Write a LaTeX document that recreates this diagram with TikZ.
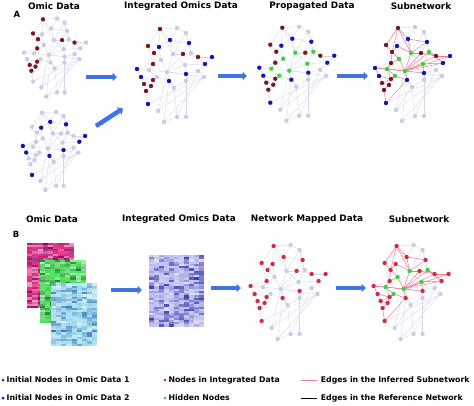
\documentclass[tikz,border=0pt]{standalone}
\usepackage{fontspec}
\setmainfont{DejaVu Sans}
\usetikzlibrary{arrows.meta}

\definecolor{drkred}{HTML}{7B1626}
\definecolor{drkblue}{HTML}{1414B4}
\definecolor{lightnode}{HTML}{C9CBE9}
\definecolor{hidgreen}{HTML}{3CD23C}
\definecolor{mapred}{HTML}{D22A3E}
\definecolor{refgray}{HTML}{D6D9EC}
\definecolor{subpink}{HTML}{F07A98}
\definecolor{arrowblue}{HTML}{3F74E4}
\definecolor{redlo}{HTML}{6A1070}
\definecolor{redhi}{HTML}{EC2E7E}
\definecolor{greenlo}{HTML}{1E7A30}
\definecolor{greenhi}{HTML}{4CE45C}
\definecolor{cyanlo}{HTML}{3A80BC}
\definecolor{cyanhi}{HTML}{A9E2F2}
\definecolor{lavlo}{HTML}{3A3AB0}
\definecolor{lavhi}{HTML}{C4C4F2}

\tikzset{
  title/.style={font=\bfseries\fontsize{8.9}{10}\selectfont, inner sep=0pt},
  panel/.style={font=\bfseries\fontsize{8.5}{10}\selectfont, inner sep=0pt},
  legend/.style={font=\bfseries\fontsize{7.8}{9}\selectfont, inner sep=0pt, anchor=west},
  refedge/.style={refgray, line width=0.4pt},
  subedge/.style={subpink, line width=0.45pt},
  bigarrow/.style={arrowblue, line width=4.5pt, -{Triangle[width=8.5pt,length=4.5pt]}},
}

% base network: name/x/y/class (R data 1, B data 2, H hidden, N other)
\newcommand{\netnodes}{1/-14/-46/R, 2/3/-47/N, 3/12/-42/N, 4/-26/-29/R,
  5/-4/-35/B, 6/-15/-28/B, 7/15/-32/B, 8/-20/-22/R, 9/-1/-21/H, 10/9/-21/R,
  11/17/-22/H, 12/24/-18/R, 13/38/-18/B, 14/31/-11/B, 15/-13/-15/H,
  16/-21/-11/R, 17/11/-10/H, 18/-37/-6/B, 19/-25/-5/H, 20/-7/-3/H,
  21/24/-4/N, 22/12/-1/B, 23/-33/2/B, 24/-21/5/R, 25/30/2/N, 26/-5/6/B,
  27/12/6/N, 28/-30/9/R, 29/-23/11/R, 30/-28/16/R, 31/0/13/N, 32/-26/29/B,
  33/-16/36/N, 34/3/42/N, 35/12/42/N, 36/-10/47/N, 37/-17/2/H}
\newcommand{\netedges}{1/2, 1/4, 1/6, 1/9, 1/5, 2/3, 2/5, 3/7, 3/9, 5/7,
  5/6, 5/9, 4/8, 6/8, 6/15, 7/11, 7/10, 8/15, 8/16, 9/10, 9/17, 9/20,
  10/12, 11/12, 11/17, 12/13, 12/14, 13/14, 14/21, 14/17, 15/20, 15/19,
  16/19, 16/18, 17/20, 17/22, 18/19, 18/23, 19/20, 19/37, 20/22, 20/26,
  20/31, 21/25, 21/22, 22/27, 23/24, 23/28, 24/37, 24/29, 26/31, 26/37,
  27/31, 28/29, 29/30, 30/32, 31/34, 31/33, 25/33, 25/32, 27/35, 26/36,
  20/33, 22/35, 34/36, 4/16, 10/20, 3/11, 20/25, 21/34, 25/36}
\newcommand{\subedges}{1/4, 1/8, 1/9, 1/5, 5/7, 5/9, 7/9, 4/8, 8/15, 6/8,
  8/16, 9/10, 9/20, 10/12, 11/12, 12/13, 11/14, 11/20, 15/20, 15/16, 16/19,
  18/19, 18/23, 19/20, 19/37, 20/22, 20/26, 20/10, 20/12, 20/14, 23/24,
  24/37, 24/28, 24/29, 29/30, 28/29, 26/37, 30/32, 19/24, 18/20, 17/20,
  17/14, 17/22, 26/32, 6/9, 13/20}

% #1 prefix, #2 #3 centre, #4 scale, #5 #6 #7 colours of R B H, #8 subnetwork
\newcommand{\drawnet}[8]{%
  \colorlet{colR}{#5}\colorlet{colB}{#6}\colorlet{colH}{#7}\colorlet{colN}{lightnode}%
  \begin{scope}[shift={(#2,#3)}, scale=#4]
    \foreach \n/\x/\y/\c in \netnodes
      \coordinate (#1\n) at (\x,\y);
    \foreach \a/\b in \netedges
      \draw[refedge] (#1\a) -- (#1\b);
    \ifnum#8=1
      \foreach \a/\b in \subedges
        \draw[subedge] (#1\a) -- (#1\b);
    \fi
    \foreach \n/\x/\y/\c in \netnodes
      \fill[col\c] (#1\n) circle[radius={2.2/#4}];
  \end{scope}}

% #1 x0, #2 y0, #3 cols, #4 rows, #5 cell w, #6 cell h, #7 colour prefix
\newcommand{\heatmap}[7]{%
  \foreach \i in {1,...,#3}
    \foreach \j in {1,...,#4}{
      \pgfmathsetmacro{\mix}{int(100*rnd^2.5)}
      \pgfmathsetmacro{\lite}{int(100-55*rnd^3)}
      \fill[#7lo!\mix!#7hi!\lite!white] ({#1+(\i-1)*#5},{#2+(\j-1)*#6}) rectangle ++(#5,#6);
    }}

\begin{document}
\begin{tikzpicture}[x=1pt, y=-1pt]
  \useasboundingbox (0,0) rectangle (474,405);
  \pgfmathsetseed{17}

  % ----- A
  \node[panel] (labA) at (17,14) {A};
  \node[title] (tA1) at (54,6) {Omic Data};
  \node[title] (tA2) at (181,6) {Integrated Omics Data};
  \node[title] (tA3) at (312,6) {Propagated Data};
  \node[title] (tA4) at (421,6) {Subnetwork};

  \drawnet{one}{54.6}{57.5}{0.83}{drkred}{lightnode}{lightnode}{0}
  \drawnet{two}{53.6}{150.9}{0.83}{lightnode}{drkblue}{lightnode}{0}
  \drawnet{int}{174}{75}{1}{drkred}{drkblue}{lightnode}{0}
  \drawnet{prop}{296.3}{73.7}{1}{drkred}{drkblue}{hidgreen}{0}
  \drawnet{suba}{412}{74}{1}{drkred}{drkblue}{hidgreen}{1}

  \coordinate (a1s) at (86,77);    \coordinate (a1e) at (117,77);
  \coordinate (a2s) at (96,126);   \coordinate (a2e) at (123,108.5);
  \coordinate (a3s) at (218,76);   \coordinate (a3e) at (247,76);
  \coordinate (a4s) at (337,76);   \coordinate (a4e) at (368,76);
  \draw[bigarrow] (a1s) -- (a1e);
  \draw[bigarrow] (a2s) -- (a2e);
  \draw[bigarrow] (a3s) -- (a3e);
  \draw[bigarrow] (a4s) -- (a4e);

  % ----- B
  \node[panel] (labB) at (16,234) {B};
  \node[title] (tB1) at (52,219) {Omic Data};
  \node[title] (tB2) at (179,219) {Integrated Omics Data};
  \node[title] (tB3) at (307,219) {Network Mapped Data};
  \node[title] (tB4) at (419,219) {Subnetwork};

  \heatmap{27.3}{242.7}{9}{30}{5.19}{2.19}{red}
  \heatmap{40}{260}{9}{29}{5.08}{2.18}{green}
  \heatmap{51}{283.3}{9}{28}{5.14}{2.23}{cyan}
  \heatmap{149}{255}{11}{32}{5}{2.24}{lav}

  \drawnet{map}{287.6}{292}{1}{mapred}{mapred}{lightnode}{0}
  \drawnet{subb}{410.6}{292}{1}{mapred}{mapred}{hidgreen}{1}

  \coordinate (b1s) at (111,290);  \coordinate (b1e) at (142,290);
  \coordinate (b2s) at (211,288);  \coordinate (b2e) at (241,288);
  \coordinate (b3s) at (336,288);  \coordinate (b3e) at (366,288);
  \draw[bigarrow] (b1s) -- (b1e);
  \draw[bigarrow] (b2s) -- (b2e);
  \draw[bigarrow] (b3s) -- (b3e);

  % ----- legend
  \fill[drkred] (3,380) circle[radius=1.5];
  \node[legend] (lg1) at (6.5,380) {Initial Nodes in Omic Data 1};
  \fill[drkblue] (3,398) circle[radius=1.5];
  \node[legend] (lg2) at (6.5,398) {Initial Nodes in Omic Data 2};
  \fill[mapred] (165,380) circle[radius=1.5];
  \node[legend] (lg3) at (168.3,380) {Nodes in Integrated Data};
  \fill[hidgreen] (165,398) circle[radius=1.5];
  \node[legend] (lg4) at (168.3,398) {Hidden Nodes};
  \coordinate (lp1) at (300.7,380); \coordinate (lp2) at (316.7,380);
  \coordinate (lk1) at (300.7,398); \coordinate (lk2) at (316.7,398);
  \draw[subpink, line width=1pt] (lp1) -- (lp2);
  \draw[black, line width=1pt] (lk1) -- (lk2);
  \node[legend] (lg5) at (320.7,380) {Edges in the Inferred Subnetwork};
  \node[legend] (lg6) at (320.7,398) {Edges in the Reference Network};
\end{tikzpicture}
\end{document}
